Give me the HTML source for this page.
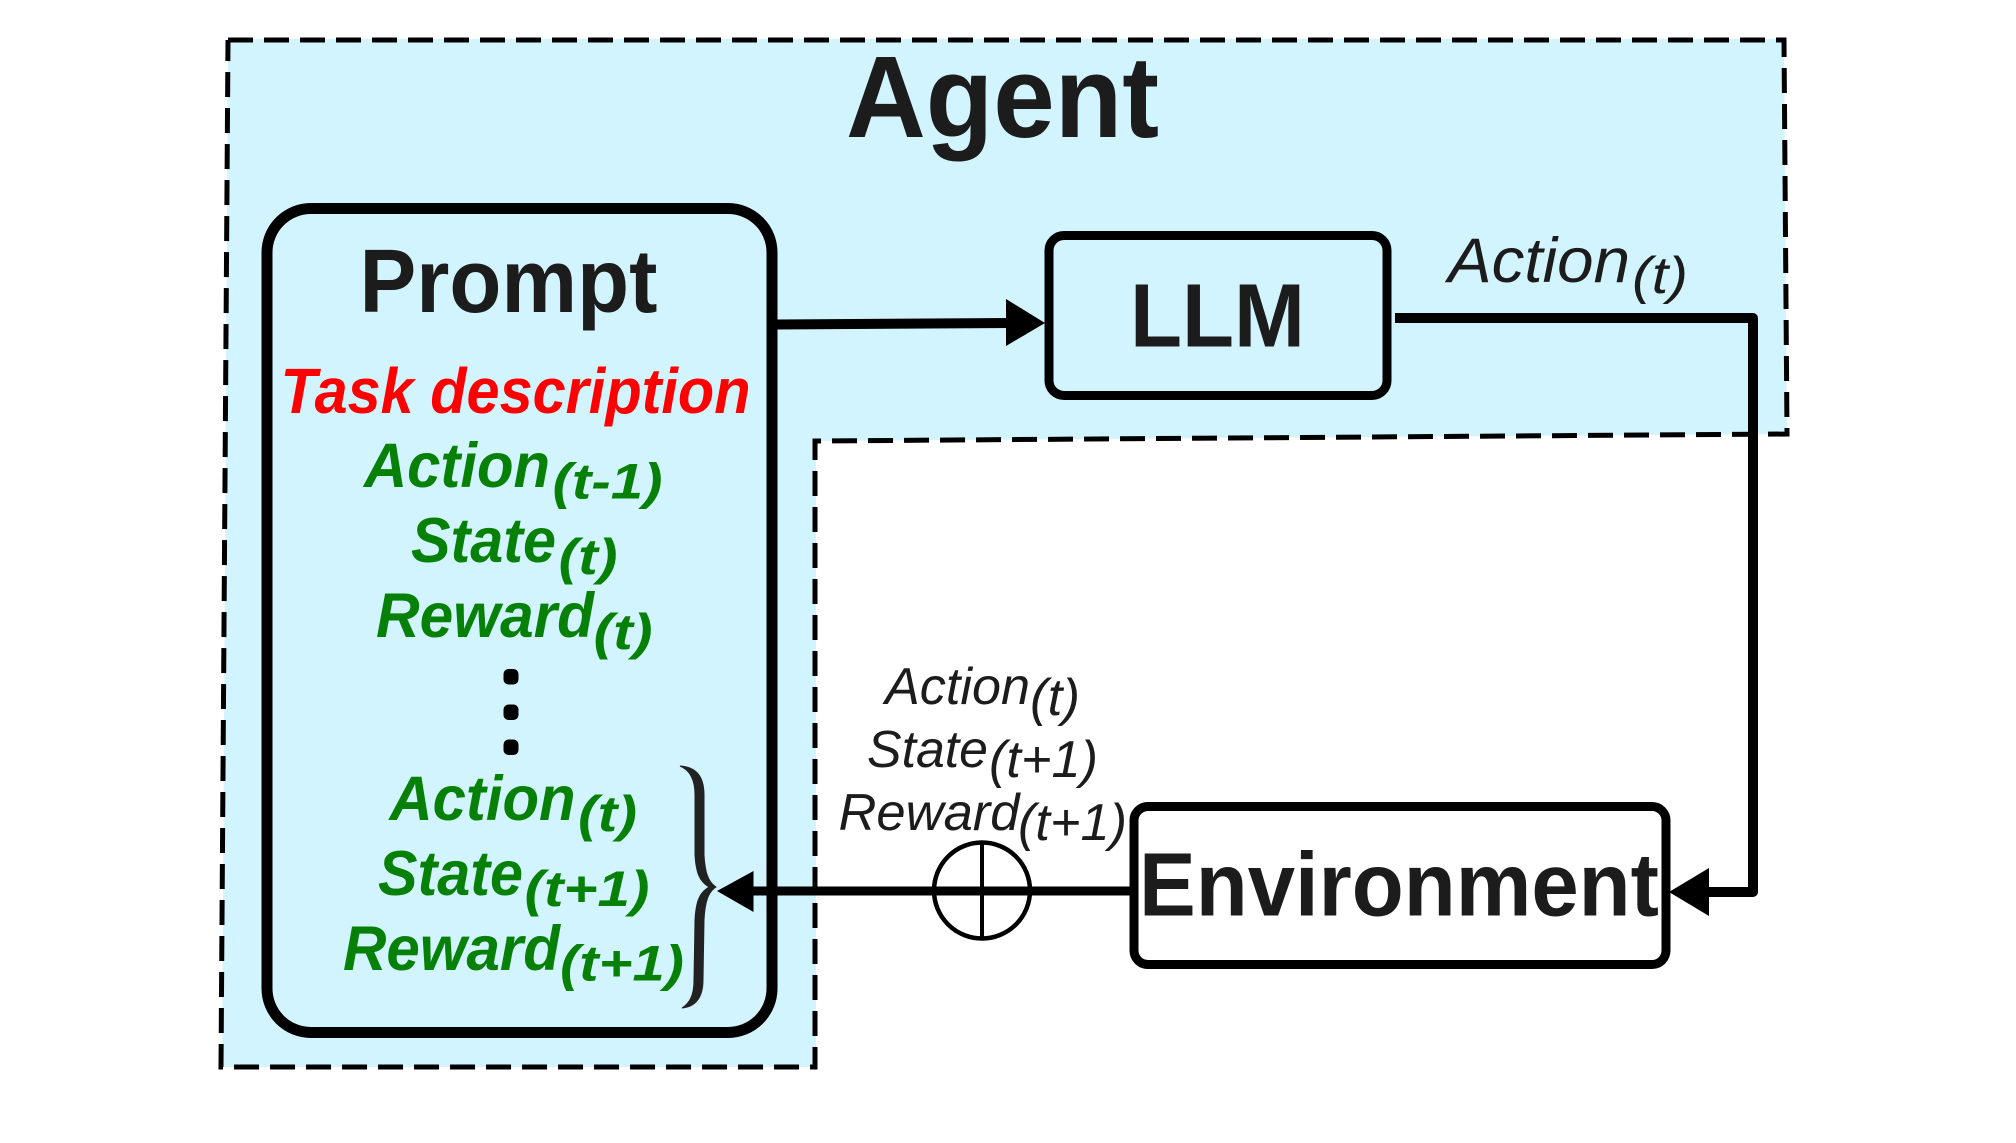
<!DOCTYPE html>
<html><head><meta charset="utf-8"><style>
html,body{margin:0;padding:0;background:#fff;width:2016px;height:1143px;overflow:hidden}
svg{display:block}
text{font-family:"Liberation Sans",sans-serif}
.b{font-weight:bold;fill:#1c1c1c}
.g{font-weight:bold;font-style:italic;fill:#078007}
.i{font-style:italic;fill:#1c1c1c}
</style></head><body>
<svg width="2016" height="1143" viewBox="0 0 2016 1143" xmlns="http://www.w3.org/2000/svg">
<polygon points="228,39 1784,39 1787,434 816,441 816,1067 222,1067" fill="#d2f4ff"/>
<polyline points="228,40 1784,40 1787,434 815,441 815,1067 221,1067 228,40" fill="none" stroke="#000" stroke-width="5" stroke-dasharray="25 11"/>

<rect x="267" y="208.5" width="505" height="824" rx="44" fill="#d2f4ff" stroke="#000" stroke-width="11"/>
<rect x="1049" y="235.5" width="338" height="160" rx="15" fill="#d2f4ff" stroke="#000" stroke-width="9"/>
<rect x="1134" y="806.5" width="532" height="158" rx="14" fill="#fff" stroke="#000" stroke-width="9"/>

<!-- connectors -->
<line x1="777" y1="324.5" x2="1010" y2="323" stroke="#000" stroke-width="10"/>
<polygon points="1045,323 1006,299 1006,346" fill="#000"/>
<polyline points="1395,318 1753,318 1753,892 1700,892" fill="none" stroke="#000" stroke-width="10" stroke-linejoin="round"/>
<polygon points="1669,892 1709,868 1709,916" fill="#000"/>
<line x1="1132" y1="891" x2="745" y2="891" stroke="#000" stroke-width="9"/>
<polygon points="717,891 753.5,871 753.5,912" fill="#000"/>
<circle cx="982" cy="890.5" r="48" fill="none" stroke="#000" stroke-width="4.5"/>
<line x1="982" y1="843" x2="982" y2="938" stroke="#000" stroke-width="4"/>

<!-- dots -->
<rect x="503.5" y="669" width="15" height="15.5" rx="5" fill="#000"/>
<rect x="503.5" y="704.5" width="15" height="15.5" rx="5" fill="#000"/>
<rect x="503.5" y="739.5" width="15" height="15.5" rx="5" fill="#000"/>

<!-- brace -->
<path d="M680,766 C695,767 704,775 704,795 L704,855 C705,872 708,882 716,887 C708,892 705,902 704,920 L703,980 C703,998 695,1007 682,1008 C690,1003 694,995 694,980 L695,920 C696,902 699,893 709,887 C699,881 696,872 695,855 L695,795 C695,780 690,770 680,766 Z" fill="#222" stroke="#222" stroke-width="1"/>

<!-- titles -->
<text class="b" x="846" y="137" font-size="116" textLength="313" lengthAdjust="spacingAndGlyphs">Agent</text>
<text class="b" x="359.5" y="312" font-size="90" textLength="298" lengthAdjust="spacingAndGlyphs">Prompt</text>
<text class="b" x="1130" y="346.5" font-size="90" textLength="175" lengthAdjust="spacingAndGlyphs">LLM</text>
<text class="b" x="1139" y="915.5" font-size="90" textLength="520" lengthAdjust="spacingAndGlyphs">Environment</text>

<text x="280.5" y="413" font-size="64" font-weight="bold" font-style="italic" fill="#ff0000" textLength="470" lengthAdjust="spacingAndGlyphs">Task description</text>

<!-- green -->
<text class="g" x="364" y="487" font-size="63" textLength="186" lengthAdjust="spacingAndGlyphs">Action</text>
<text class="g" x="552.5" y="498.5" font-size="50" textLength="110" lengthAdjust="spacingAndGlyphs">(t-1)</text>
<text class="g" x="411" y="562" font-size="63" textLength="145" lengthAdjust="spacingAndGlyphs">State</text>
<text class="g" x="558.5" y="574" font-size="50" textLength="59" lengthAdjust="spacingAndGlyphs">(t)</text>
<text class="g" x="376" y="637" font-size="63" textLength="218" lengthAdjust="spacingAndGlyphs">Reward</text>
<text class="g" x="593.5" y="649" font-size="50" textLength="59" lengthAdjust="spacingAndGlyphs">(t)</text>
<text class="g" x="389.5" y="820" font-size="63" textLength="186" lengthAdjust="spacingAndGlyphs">Action</text>
<text class="g" x="578" y="831" font-size="50" textLength="59" lengthAdjust="spacingAndGlyphs">(t)</text>
<text class="g" x="378" y="895" font-size="63" textLength="145" lengthAdjust="spacingAndGlyphs">State</text>
<text class="g" x="524.5" y="906" font-size="50" textLength="125" lengthAdjust="spacingAndGlyphs">(t+1)</text>
<text class="g" x="343" y="970" font-size="63" textLength="217" lengthAdjust="spacingAndGlyphs">Reward</text>
<text class="g" x="560" y="980.5" font-size="50" textLength="124" lengthAdjust="spacingAndGlyphs">(t+1)</text>

<!-- action label -->
<text class="i" x="1448" y="282" font-size="63" textLength="182" lengthAdjust="spacingAndGlyphs">Action</text>
<text class="i" x="1632" y="293" font-size="52" textLength="56" lengthAdjust="spacingAndGlyphs">(t)</text>

<!-- circle labels -->
<text class="i" x="885" y="704" font-size="52" textLength="145" lengthAdjust="spacingAndGlyphs">Action</text>
<text class="i" x="1030" y="715" font-size="52" textLength="50" lengthAdjust="spacingAndGlyphs">(t)</text>
<text class="i" x="867" y="767" font-size="52" textLength="121" lengthAdjust="spacingAndGlyphs">State</text>
<text class="i" x="989" y="777" font-size="52" textLength="109" lengthAdjust="spacingAndGlyphs">(t+1)</text>
<text class="i" x="838.5" y="830" font-size="52" textLength="181" lengthAdjust="spacingAndGlyphs">Reward</text>
<text class="i" x="1018" y="840" font-size="52" textLength="109" lengthAdjust="spacingAndGlyphs">(t+1)</text>
</svg>
</body></html>
